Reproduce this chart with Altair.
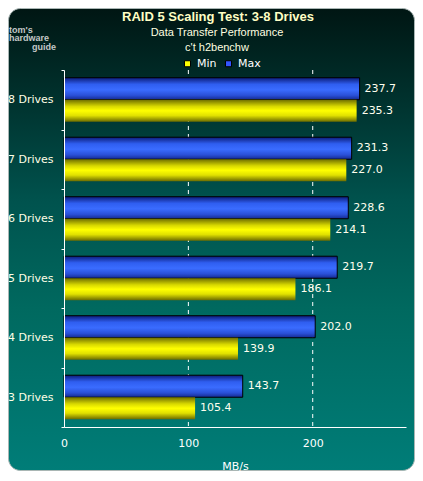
import altair as alt
import pandas as pd

drives = ["8 Drives", "7 Drives", "6 Drives", "5 Drives", "4 Drives", "3 Drives"]
max_vals = [237.7, 231.3, 228.6, 219.7, 202.0, 143.7]
min_vals = [235.3, 227.0, 214.1, 186.1, 139.9, 105.4]
series_order = ["Max", "Min"]
legend_order = ["Min", "Max"]
x_ticks = [0, 100, 200]
grid_vals = [100, 200]
title_text = "RAID 5 Scaling Test: 3-8 Drives"
subtitle_lines = ["Data Transfer Performance", "c't h2benchw"]
logo_words = ["tom's", "hardware", "guide"]

rows = []
for d, mx, mn in zip(drives, max_vals, min_vals):
    rows.append({"drive": d, "series": "Max", "value": mx})
    rows.append({"drive": d, "series": "Min", "value": mn})
df = pd.DataFrame(rows)

W, H = 342, 357
PAD = {"left": 56, "top": 62, "right": 9, "bottom": 44}
FONT = "DejaVu Sans"
TFONT = "Liberation Sans"


def grad(stops):
    return alt.LinearGradient(
        gradient="linear", x1=0, x2=0, y1=0, y2=1,
        stops=[alt.GradientStop(offset=o, color=c) for o, c in stops],
    )


bg_grad = grad([(0, "#001613"), (0.2, "#00322e"), (0.42, "#00534e"),
                (0.65, "#00695f"), (1, "#007d78")])
blue_grad = grad([(0, "#0c1c78"), (0.3, "#2f5ef0"), (0.55, "#3a6cff"),
                  (0.8, "#2a50d8"), (1, "#142a90")])
yellow_grad = grad([(0, "#6e6e00"), (0.3, "#d8d800"), (0.5, "#ffff00"),
                    (0.72, "#e0e000"), (1, "#6a6a00")])

one = pd.DataFrame({"a": [0]})

bg = alt.Chart(one).mark_rect(
    fill=bg_grad, stroke="#a9b6b4", strokeWidth=1, cornerRadius=12
).encode(
    x=alt.value(-PAD["left"] + 0.5), x2=alt.value(W + PAD["right"] - 0.5),
    y=alt.value(-PAD["top"] + 0.5), y2=alt.value(H + PAD["bottom"] - 0.5),
)

x_scale = alt.Scale(domain=[0, 275], nice=False)

grid = alt.Chart(pd.DataFrame({"v": grid_vals})).mark_rule(
    color="white", strokeDash=[4, 4], strokeWidth=1
).encode(x=alt.X("v:Q", scale=x_scale))

y_enc = alt.Y(
    "drive:N", sort=drives,
    scale=alt.Scale(paddingInner=0, paddingOuter=0),
    axis=alt.Axis(title=None, tickBand="extent", tickSize=3, tickColor="white",
                  domainColor="white", labelColor="#ffffe6", labelFont=FONT,
                  labelFontSize=11, labelPadding=8, zindex=1),
)
yoff = alt.YOffset("series:N", scale=alt.Scale(domain=series_order,
                                                paddingOuter=0.35, paddingInner=0))
x_enc = alt.X(
    "value:Q", scale=x_scale,
    axis=alt.Axis(values=x_ticks, title="MB/s", grid=False, ticks=False,
                  domainColor="white", labelColor="white", labelFont=FONT,
                  labelFontSize=11, labelPadding=10, labelFlush=False,
                  titleColor="white", titleFont=FONT, titleFontSize=11,
                  titleFontWeight="normal", titlePadding=12, zindex=1),
)

base = alt.Chart(df)

max_bars = base.transform_filter("datum.series == 'Max'").mark_bar(
    fill=blue_grad, stroke="black", strokeWidth=1
).encode(x=x_enc, y=y_enc, yOffset=yoff)

min_bars = base.transform_filter("datum.series == 'Min'").mark_bar(
    fill=yellow_grad
).encode(x=x_enc, y=y_enc, yOffset=yoff)

labels = base.mark_text(
    align="left", baseline="middle", dx=5, color="#ffffee", font=FONT, fontSize=11
).encode(x=x_enc, y=y_enc, yOffset=yoff, text=alt.Text("value:Q", format=".1f"))

legend_layer = base.mark_square(opacity=0).encode(
    x=x_enc, y=y_enc,
    color=alt.Color(
        "series:N",
        scale=alt.Scale(domain=legend_order, range=["#ffff00", "#3355ff"]),
        legend=alt.Legend(
            title=None, orient="none", legendX=118, legendY=-12,
            direction="horizontal", symbolType="square", symbolSize=36,
            symbolOpacity=1, symbolStrokeColor="black", symbolStrokeWidth=1,
            labelColor="white", labelFont=FONT, labelFontSize=11,
            labelOffset=4, columnPadding=6, padding=0, zindex=1,
        ),
    ),
)


def text_mark(txt, x, y, align="center", font=TFONT, size=11, weight="normal",
              color="white"):
    return alt.Chart(one).mark_text(
        align=align, baseline="alphabetic", font=font, fontWeight=weight,
        fontSize=size, color=color
    ).encode(x=alt.value(x), y=alt.value(y), text=alt.value(txt))


title1 = text_mark(title_text, 154, -49.5, size=13, weight="bold", color="#ffffc4")
sub1 = text_mark(subtitle_lines[0], 153, -34.5, size=11, color="#ffffe0")
sub2 = text_mark(subtitle_lines[1], 153, -19.5, size=11, color="#ffffe0")

logo_color = "#c4c8c8"
logo1 = text_mark(logo_words[0], -55, -37.5, align="left", size=9, weight="bold", color=logo_color)
logo2 = text_mark(logo_words[1], -55, -29, align="left", size=9, weight="bold", color=logo_color)
logo3 = text_mark(logo_words[2], -8, -20.5, align="right", size=9, weight="bold", color=logo_color)

chart = alt.layer(
    bg, grid, max_bars, min_bars, labels, legend_layer,
    title1, sub1, sub2, logo1, logo2, logo3
).properties(
    width=W, height=H,
    padding=PAD,
    autosize=alt.AutoSizeParams(type="none"),
).configure_view(stroke=None).configure(background="white")

chart.save("out.html", embed_options={"renderer": "svg", "actions": False})
